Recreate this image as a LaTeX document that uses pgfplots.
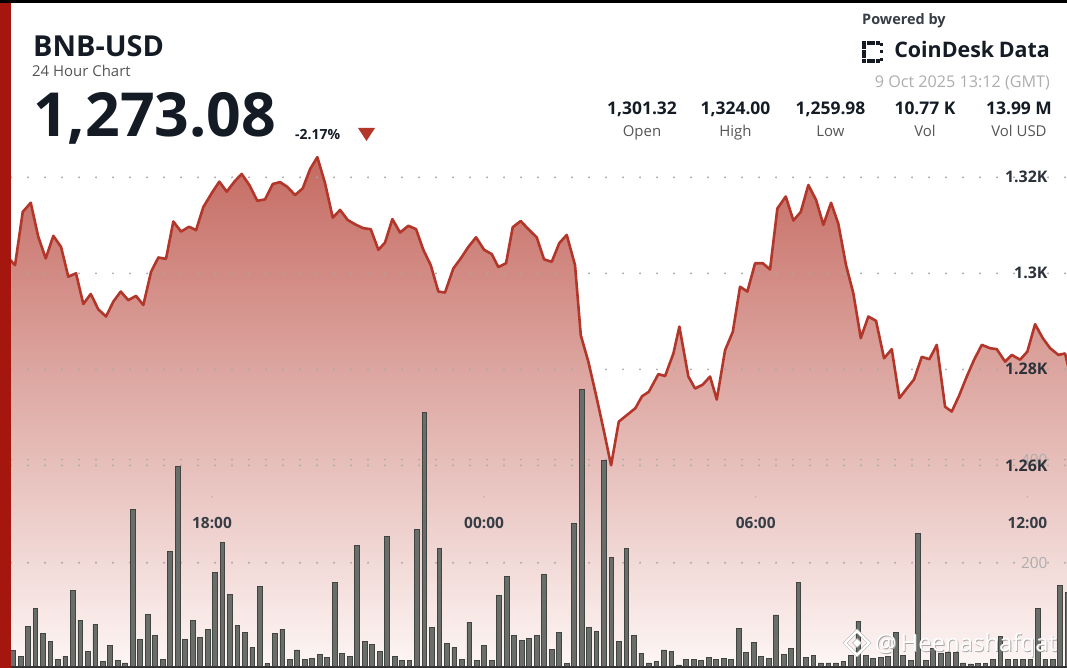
\documentclass[border=0pt]{standalone}
\usepackage{pgfplots}
\pgfplotsset{compat=1.18}
\usepackage{pgfplotstable}
\usepackage{fontspec}
\setmainfont{Open Sans}

\definecolor{leftred}{HTML}{A5170E}
\definecolor{linered}{HTML}{B3362B}
\definecolor{filltop}{HTML}{C56B62}
\definecolor{fillbot}{HTML}{FDF6F5}
\definecolor{barfill}{HTML}{6A6E6A}
\definecolor{bardraw}{HTML}{414441}
\definecolor{gridgray}{HTML}{A8A8A8}
\definecolor{textdark}{HTML}{141B24}
\definecolor{textmid}{HTML}{555555}
\definecolor{textlight}{HTML}{AEAEAE}

\newcommand\fs[1]{\fontsize{#1}{#1}\selectfont}

% price, x in 10-minute slots (same units as the volume bars)
\pgfplotstableread{
t p
-0.80 1303.5
0.27 1301.7
1.30 1312.8
2.37 1314.7
3.38 1307.6
4.37 1303.1
5.39 1307.8
6.42 1305.5
7.39 1299.3
8.42 1300.0
9.40 1293.6
10.39 1295.7
11.40 1292.5
12.43 1291.0
13.41 1294.1
14.40 1296.2
15.41 1294.4
16.44 1295.3
17.42 1293.4
18.45 1300.3
19.43 1303.3
20.45 1303.0
21.43 1310.8
22.46 1308.7
23.53 1309.7
24.47 1309.0
25.44 1313.8
26.56 1316.7
27.58 1319.1
28.57 1317.0
29.59 1319.1
30.57 1320.7
31.59 1318.4
32.66 1315.1
33.69 1315.4
34.72 1318.6
35.70 1319.0
36.67 1318.0
37.70 1316.3
38.73 1317.7
39.71 1321.7
40.68 1324.2
41.71 1318.8
42.74 1311.6
43.72 1313.2
44.75 1311.1
45.86 1310.1
46.83 1309.4
47.82 1309.2
48.84 1304.9
49.73 1306.4
50.71 1311.3
51.74 1308.5
52.85 1309.9
53.88 1309.2
54.85 1304.9
55.84 1301.7
56.86 1296.2
57.75 1296.0
58.86 1301.0
59.85 1303.1
60.87 1305.5
61.90 1307.5
62.97 1304.9
64.00 1304.0
64.88 1301.3
65.91 1302.1
66.80 1309.6
67.87 1310.9
68.89 1309.2
70.01 1307.5
70.99 1302.9
72.02 1302.4
73.03 1306.3
74.02 1308.0
75.13 1301.7
75.90 1287.1
76.91 1281.6
78.03 1274.0
79.01 1267.0
79.95 1260.0
80.98 1269.1
82.09 1270.5
83.20 1271.9
84.09 1274.4
84.99 1275.3
86.27 1279.0
87.17 1278.6
88.28 1283.3
89.08 1288.9
90.28 1278.5
91.18 1276.0
92.20 1276.8
93.18 1278.5
94.08 1273.7
95.19 1284.0
96.22 1287.8
97.19 1297.2
98.17 1296.2
99.20 1302.1
100.23 1302.1
101.20 1300.8
102.18 1313.5
103.30 1316.0
104.32 1311.0
105.31 1312.8
106.32 1318.4
107.35 1315.3
108.33 1310.1
109.36 1314.7
110.33 1310.3
111.36 1301.7
112.34 1295.8
113.33 1286.5
114.34 1291.0
115.37 1290.1
116.44 1282.3
117.47 1284.2
118.49 1274.0
119.48 1276.0
120.45 1277.9
121.48 1282.6
122.50 1282.1
123.49 1285.1
124.60 1272.2
125.49 1271.2
126.47 1274.5
127.50 1278.5
128.48 1282.0
129.51 1285.1
130.61 1284.4
131.51 1284.2
132.62 1281.6
133.52 1283.0
134.63 1282.0
135.60 1283.7
136.63 1289.4
137.66 1286.5
138.64 1284.4
139.75 1283.0
140.64 1283.3
141.60 1277.0
}\pricetab

% volume per 10-minute slot
\pgfplotstableread{
i v
0 30
1 19
2 76
3 112
4 63
5 47
6 12
7 19
8 146
9 89
10 28
11 80
12 8
13 39
14 10
15 6
16 303
17 52
18 100
19 60
20 13
21 222
22 386
23 52
24 88
25 56
26 70
27 181
28 239
29 139
30 78
31 65
32 36
33 154
34 5
35 63
36 71
37 13
38 31
39 12
40 15
41 23
42 17
43 162
44 25
45 18
46 233
47 47
48 41
49 28
50 251
51 18
52 10
53 10
54 264
55 491
56 75
57 227
58 44
59 36
60 12
61 85
62 10
63 39
64 10
65 136
66 173
67 60
68 49
69 54
70 60
71 177
72 32
73 65
74 5
75 277
76 536
77 74
78 67
79 398
80 211
81 47
82 227
83 60
84 25
85 6
86 8
87 31
88 28
89 2
90 13
91 13
92 10
93 17
94 13
95 15
96 12
97 72
98 27
99 46
100 18
101 14
102 99
103 23
104 34
105 162
106 16
107 21
108 6
109 6
110 6
111 8
112 21
113 86
114 20
115 15
116 17
117 19
118 65
119 21
120 10
121 256
122 10
123 34
124 25
125 26
126 26
127 6
128 4
129 5
130 5
131 12
132 58
133 13
134 13
135 13
136 13
137 112
138 13
139 12
140 156
141 142
}\voltab

\pgfplotsset{
  chart/.style={
    at={(11bp,2bp)}, anchor=south west,
    scale only axis, width=1056bp, height=516bp,
    xmin=-0.27, xmax=140.9,
    axis line style={draw=none},
    major tick length=0pt,
    grid style={draw=gridgray, line width=2.1bp, line cap=round, dash pattern=on 0pt off 17bp},
  },
  pricey/.style={ymin=1218.2, ymax=1325.69},
}

\begin{document}
\begin{tikzpicture}[x=1bp,y=1bp]
\useasboundingbox (0,0) rectangle (1067,668);
\fill[white] (0,0) rectangle (1067,668);

% price area
\begin{axis}[chart, pricey, axis on top,
  xtick=\empty, ytick={1260,1280,1300,1320}, yticklabels={}, ymajorgrids]
\addplot[draw=none, top color=filltop, bottom color=fillbot]
  table[x=t, y=p]{\pricetab} -- (axis cs:141.6,1218.2) -- (axis cs:-0.8,1218.2) -- cycle;
\end{axis}

% volume bars
\begin{axis}[chart, ymin=0, ymax=1000,
  xtick=\empty, ytick={200,400}, yticklabels={200,400}, ymajorgrids,
  yticklabel pos=right,
  yticklabel style={anchor=east, xshift=-16bp, text=textlight, font=\fs{15.5}}]
\addplot[ybar, bar width=4.8bp, bar shift=0pt, fill=barfill, draw=bardraw, line width=0.8bp]
  table[x=i, y=v]{\voltab};
\end{axis}

% price line and labels
\begin{axis}[chart, pricey,
  ytick={1260,1280,1300,1320}, yticklabels={1.26K,1.28K,1.3K,1.32K},
  yticklabel pos=right,
  yticklabel style={anchor=east, xshift=-16bp, text=textdark!90, font=\bfseries\fs{16}},
  xtick={26.6,62.97,99.29,135.6}, xticklabels={18:00,00:00,06:00,12:00},
  xticklabel style={anchor=center, yshift=143bp, text=textdark!85, font=\bfseries\fs{15.5}},
  extra x ticks={26.6,62.97,99.29,135.6},
  extra x tick labels={\textbullet,\textbullet,\textbullet,\textbullet},
  extra x tick style={xticklabel style={yshift=25bp, text=gridgray, font=\fs{6}}}]
\addplot[linered, line width=2.6bp, line join=round] table[x=t, y=p]{\pricetab};
\end{axis}

% frame strips
\fill[black] (0,665) rectangle (1067,668);
\fill[leftred] (0,0) rectangle (11,665);
\fill[black!80] (11,0) rectangle (1067,2);

% header left
\node[anchor=base west, inner sep=0, text=textdark, font=\bfseries\fs{29}] at (33,611) {BNB-USD};
\node[anchor=base west, inner sep=0, text=textmid, font=\fs{15}] at (32,591) {24 Hour Chart};
\node[anchor=base west, inner sep=0, text=textdark, font=\bfseries\fs{61}] at (33,531) {1,273.08};
\node[anchor=base west, inner sep=0, text=textdark, font=\bfseries\fs{14}] at (295,528.5) {-2.17\%};
\fill[linered] (358,540) -- (375,540) -- (366.5,527) -- cycle;

% header right
\node[anchor=base west, inner sep=0, text=textdark!85, font=\bfseries\fs{14.5}] at (862,643) {Powered by};
\foreach \yy in {605,609.5,614,618.5,623} \fill[textdark] (862,\yy) rectangle +(4,4);
\foreach \xx in {866.5,871,875.5} {\fill[textdark] (\xx,623) rectangle +(4,4); \fill[textdark] (\xx,605) rectangle +(4,4);}
\fill[textdark] (880,622) rectangle +(3,3);
\fill[textdark] (880,607) rectangle +(3,3);
\fill[textdark] (880,614.5) rectangle +(3,3);
\node[anchor=base east, inner sep=0, text=textdark, font=\bfseries\fs{21.5}] at (1050,610) {CoinDesk\kern-1bp\ Data};
\node[anchor=base east, inner sep=0, text=textlight, font=\fs{16.2}] at (1050,580.5) {9 Oct 2025 13:12 (GMT)};
\foreach \cx/\val/\lab in {642/{1,301.32}/Open, 735.5/{1,324.00}/High, 830.5/{1,259.98}/Low, 925/{10.77 K}/Vol, 1019/{13.99 M}/Vol USD} {
  \node[anchor=base, inner sep=0, text=textdark, font=\bfseries\fs{17.5}] at (\cx,553) {\val};
  \node[anchor=base, inner sep=0, text=textmid, font=\fs{15}] at (\cx,531) {\lab};
}

% watermark
\begin{scope}[shift={(857,25)}]
  \draw[gray!60, line width=3.2bp] (0,-12) -- (12,0) -- (0,12) -- (-12,0) -- cycle;
  \draw[white, line width=2.2bp] (0,-12) -- (12,0) -- (0,12) -- (-12,0) -- cycle;
  \fill[white, draw=gray!60, line width=0.6bp] (0,-4.5) -- (4.5,0) -- (0,4.5) -- (-4.5,0) -- cycle;
\end{scope}
\node[anchor=base west, inner sep=0, text=gray!70, font=\fs{24}] at (875.8,15) {@\,Heenashafqat};
\node[anchor=base west, inner sep=0, text=white, font=\fs{24}] at (875,16) {@\,Heenashafqat};
\end{tikzpicture}
\end{document}
